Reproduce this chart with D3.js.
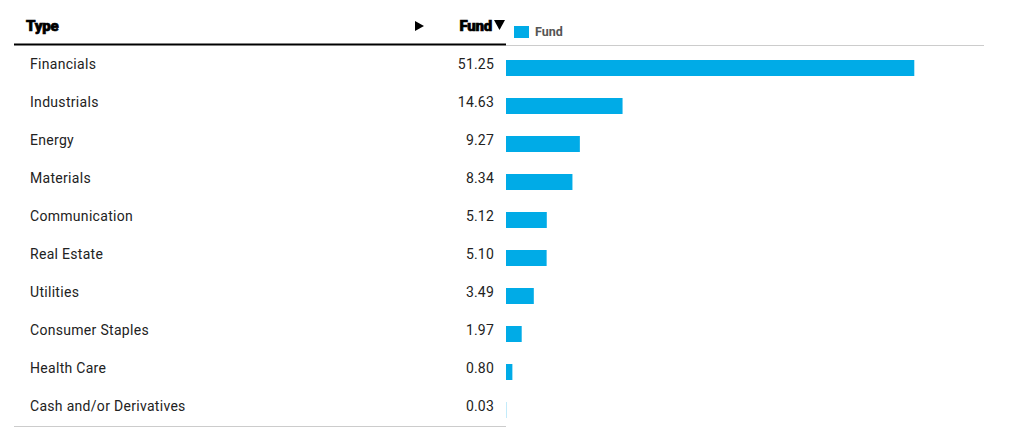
<!DOCTYPE html>
<html>
<head>
<meta charset="utf-8">
<script src="https://cdn.jsdelivr.net/npm/d3@7"></script>
<style>
  body { margin: 0; background: #fff; }
  svg { display: block; font-family: Roboto, "Noto Sans", sans-serif; }
</style>
</head>
<body>
<svg width="1025" height="429"></svg>
<script>
// sector breakdown
var types = ["Financials", "Industrials", "Energy", "Materials", "Communication",
             "Real Estate", "Utilities", "Consumer Staples", "Health Care", "Cash and/or Derivatives"];
var fund = [51.25, 14.63, 9.27, 8.34, 5.12, 5.10, 3.49, 1.97, 0.80, 0.03];
var seriesName = "Fund";

var svg = d3.select("svg");
var blue = "#00abe7";

// scales
var x = d3.scaleLinear().domain([0, 60]).range([506, 984]);
var rowY = d3.scalePoint().domain(types).range([64, 406]);

// header (heavy font, stroke to thicken it)
svg.append("text").attr("x", 26).attr("y", 31)
    .attr("font-size", 15).attr("font-weight", 900).attr("fill", "#000")
    .attr("stroke", "#000").attr("stroke-width", 0.7)
    .attr("letter-spacing", "-0.2").text("Type");
svg.append("path").attr("d", "M415,21 L424,26 L415,31 Z").attr("fill", "#000");
svg.append("text").attr("x", 492).attr("y", 31).attr("text-anchor", "end")
    .attr("font-size", 15).attr("font-weight", 900).attr("fill", "#000")
    .attr("stroke", "#000").attr("stroke-width", 0.7)
    .attr("letter-spacing", "-0.2").text(seriesName);
svg.append("path").attr("d", "M494,20 L505,20 L499.5,30 Z").attr("fill", "#000");
svg.append("line").attr("x1", 14).attr("x2", 506).attr("y1", 44.5).attr("y2", 44.5)
    .attr("stroke", "#000").attr("stroke-width", 2);

// legend
svg.append("rect").attr("x", 514).attr("y", 26).attr("width", 15).attr("height", 12).attr("fill", blue);
svg.append("text").attr("x", 535).attr("y", 36).attr("font-size", 12.5).attr("font-weight", 700)
    .attr("fill", "#555").text(seriesName);
svg.append("line").attr("x1", 506).attr("x2", 984).attr("y1", 45.5).attr("y2", 45.5)
    .attr("stroke", "#ccc").attr("stroke-width", 1);

// table rows
var rows = svg.selectAll("g.row").data(types).enter().append("g").attr("class", "row");
rows.append("text").attr("x", 30).attr("y", function (d) { return rowY(d) + 5; })
    .attr("font-size", 14).attr("letter-spacing", "0.3").attr("fill", "#222")
    .text(function (d) { return d; });
rows.append("text").attr("x", 494).attr("y", function (d) { return rowY(d) + 5; })
    .attr("text-anchor", "end").attr("font-size", 14).attr("letter-spacing", "0.2").attr("fill", "#222")
    .text(function (d, i) { return fund[i].toFixed(2); });

// bars
svg.selectAll("rect.bar").data(types).enter().append("rect").attr("class", "bar")
    .attr("x", x(0))
    .attr("y", function (d) { return rowY(d) - 4; })
    .attr("width", function (d, i) { return x(fund[i]) - x(0); })
    .attr("height", 16)
    .attr("fill", blue);

svg.append("line").attr("x1", 14).attr("x2", 506).attr("y1", 426.5).attr("y2", 426.5)
    .attr("stroke", "#ccc").attr("stroke-width", 1);
</script>
</body>
</html>
